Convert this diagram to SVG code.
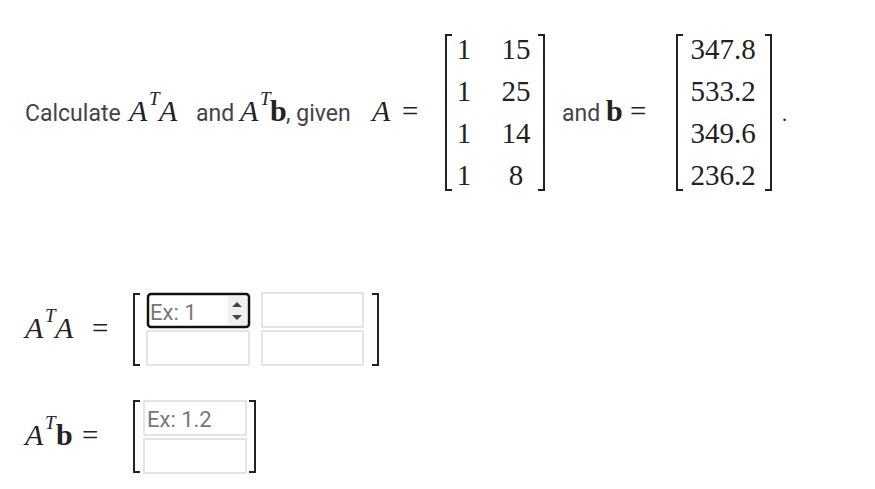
<svg xmlns="http://www.w3.org/2000/svg" width="875" height="489" viewBox="0 0 875 489">
<style>
.s{font-family:Roboto,"Liberation Sans",sans-serif;font-size:23px;fill:#444}
.m{font-family:"Liberation Serif","DejaVu Serif",serif;font-size:29px;fill:#222}
.mi{font-family:"Liberation Serif",serif;font-size:30px;font-style:italic;fill:#222}
.sup{font-family:"Liberation Serif",serif;font-size:19px;font-style:italic;fill:#222}
.b{font-family:"Liberation Serif",serif;font-size:30px;font-weight:bold;fill:#222}
.br{fill:none;stroke:#222;stroke-width:2}
.box{fill:#fff;stroke:#d6d6d6;stroke-width:1.3}
.ph{font-family:Roboto,"Liberation Sans",sans-serif;font-size:22px;fill:#777}
</style>
<rect width="875" height="489" fill="#fff"/>
<text x="25" y="121" class="s">Calculate</text>
<text x="129" y="121" class="mi">A</text><text x="149" y="105" class="sup">T</text><text x="159" y="121" class="mi">A</text>
<text x="196" y="121" class="s">and</text>
<text x="240" y="121" class="mi">A</text><text x="260" y="105" class="sup">T</text><text x="270" y="121" class="b">b</text>
<text x="286" y="121" class="s">, given</text>
<text x="372" y="121" class="mi">A</text><text x="402" y="121" class="m">=</text>
<path class="br" d="M452,35 H446 V190 H452 M538,35 H544 V190 H538"/>
<g class="m" text-anchor="middle">
<text x="464" y="59">1</text><text x="516" y="59">15</text>
<text x="464" y="101">1</text><text x="516" y="101">25</text>
<text x="464" y="143">1</text><text x="516" y="143">14</text>
<text x="464" y="185">1</text><text x="516" y="185">8</text>
</g>
<text x="562" y="121" class="s">and</text>
<text x="606" y="121" class="b">b</text>
<text x="630" y="121" class="m">=</text>
<path class="br" d="M683,35 H677 V190 H683 M765,35 H771 V190 H765"/>
<g class="m" text-anchor="middle">
<text x="723" y="59">347.8</text><text x="723" y="101">533.2</text>
<text x="723" y="143">349.6</text><text x="723" y="185">236.2</text>
</g>
<text x="782" y="121" class="m" style="font-size:20px">.</text>

<text x="25" y="338" class="mi">A</text><text x="45" y="322" class="sup">T</text><text x="55" y="338" class="mi">A</text><text x="92" y="338" class="m">=</text>
<path class="br" d="M140,294 H134 V365 H140 M372,294 H378 V365 H372"/>
<rect x="148" y="294" width="101" height="33" rx="3" fill="#fff" stroke="#111" stroke-width="2.5"/>
<rect x="228" y="296" width="19" height="29" fill="#f0f0f0"/>
<path d="M232,307 l5,-5 l5,5z M232,315 l5,5 l5,-5z" fill="#444"/>
<text x="150" y="320" class="ph">Ex: 1</text>
<rect class="box" x="262" y="293" width="101" height="34"/>
<rect class="box" x="147" y="331" width="102" height="34"/>
<rect class="box" x="262" y="331" width="101" height="34"/>

<text x="25" y="445" class="mi">A</text><text x="45" y="429" class="sup">T</text><text x="56" y="445" class="b">b</text><text x="82" y="445" class="m">=</text>
<path class="br" d="M140,401 H134 V472 H140 M249,401 H255 V472 H249"/>
<rect class="box" x="144" y="401" width="102" height="34"/>
<text x="147" y="427" class="ph">Ex: 1.2</text>
<rect class="box" x="144" y="439" width="102" height="34"/>
</svg>
